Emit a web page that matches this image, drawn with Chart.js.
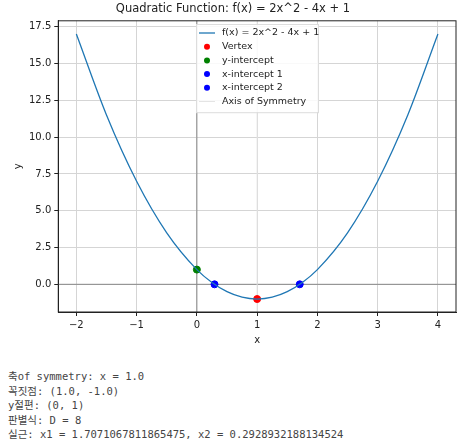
<!DOCTYPE html>
<html><head><meta charset="utf-8">
<script src="https://cdn.jsdelivr.net/npm/chart.js@4"></script>
<style>
body{margin:0;background:#fff;width:474px;height:447px;overflow:hidden}
#wrap{width:474px;height:348px;position:relative}
pre{margin:0;padding:21px 0 0 8px;font-family:"DejaVu Sans Mono","Noto Sans CJK KR",monospace;font-size:10.5px;line-height:14.6px;color:#444}
</style></head><body>
<div id="wrap"><canvas id="c"></canvas></div>
<pre>축of symmetry: x = 1.0
꼭짓점: (1.0, -1.0)
y절편: (0, 1)
판별식: D = 8
실근: x1 = 1.7071067811865475, x2 = 0.2928932188134524</pre>
<script>
// данные кривой
const curveX = [-2, -1.5, -1, -0.5, 0, 0.25, 0.5, 0.75, 1, 1.25, 1.5, 1.75, 2, 2.5, 3, 3.5, 4];
const curveY = [17, 11.5, 7, 3.5, 1, 0.125, -0.5, -0.875, -1, -0.875, -0.5, 0.125, 1, 3.5, 7, 11.5, 17];
const vertex = [{x: 1, y: -1}];
const yIntercept = [{x: 0, y: 1}];
const xIntercept1 = [{x: 1.7071, y: 0}];
const xIntercept2 = [{x: 0.2929, y: 0}];
const symmetryX = 1.0;

const font = {family: 'DejaVu Sans', size: 10};

const legendBox = {
    id: 'legendBox',
    afterDraw(chart) {
        const ctx = chart.ctx;
        const items = chart.data.datasets;
        const x0 = 196, y0 = 24, w = 122, lh = 13.7;
        ctx.save();
        ctx.fillStyle = 'rgba(255,255,255,0.85)';
        ctx.strokeStyle = '#ddd';
        ctx.fillRect(x0, y0, w, items.length * lh + 6);
        ctx.strokeRect(x0 + 0.5, y0 + 0.5, w, items.length * lh + 6);
        ctx.font = '9.5px "DejaVu Sans"';
        ctx.textBaseline = 'middle';
        items.forEach((d, i) => {
            const y = y0 + 9 + i * lh;
            if (d.showLine) {
                ctx.strokeStyle = d.borderColor; ctx.lineWidth = d.borderWidth;
                ctx.beginPath(); ctx.moveTo(x0 + 3, y); ctx.lineTo(x0 + 19, y); ctx.stroke();
            } else {
                ctx.fillStyle = d.backgroundColor;
                ctx.beginPath(); ctx.arc(x0 + 11, y, 3, 0, Math.PI * 2); ctx.fill();
            }
            ctx.fillStyle = '#222';
            ctx.fillText(d.label, x0 + 26, y);
        });
        ctx.restore();
    }
};

const refLines = {
    id: 'refLines',
    beforeDatasetsDraw(chart) {
        const {ctx, chartArea: a, scales: {x, y}} = chart;
        ctx.save();
        ctx.lineWidth = 1;
        ctx.strokeStyle = '#888';
        ctx.beginPath();
        ctx.moveTo(a.left, y.getPixelForValue(0)); ctx.lineTo(a.right, y.getPixelForValue(0));
        ctx.moveTo(x.getPixelForValue(0), a.top); ctx.lineTo(x.getPixelForValue(0), a.bottom);
        ctx.stroke();
        ctx.strokeStyle = '#e4e4e4';
        ctx.beginPath();
        ctx.moveTo(x.getPixelForValue(symmetryX), a.top); ctx.lineTo(x.getPixelForValue(symmetryX), a.bottom);
        ctx.stroke();
        ctx.strokeStyle = '#222';
        ctx.strokeRect(a.left, a.top, a.right - a.left, a.bottom - a.top);
        ctx.restore();
    }
};

const pts = (label, data, color) => ({label, data, showLine: false, backgroundColor: color, borderColor: color, pointRadius: 3.5, pointHoverRadius: 3.5});

new Chart(document.getElementById('c'), {
    type: 'scatter',
    data: {
        datasets: [
            {label: 'f(x) = 2x^2 - 4x + 1', data: curveX.map((v, i) => ({x: v, y: curveY[i]})), showLine: true,
             borderColor: '#1f77b4', backgroundColor: '#1f77b4', borderWidth: 1.3, pointRadius: 0, cubicInterpolationMode: 'monotone'},
            pts('Vertex', vertex, 'red'),
            pts('y-intercept', yIntercept, 'green'),
            pts('x-intercept 1', xIntercept1, 'blue'),
            pts('x-intercept 2', xIntercept2, 'blue'),
            {label: 'Axis of Symmetry', data: [], showLine: true, borderColor: '#e4e4e4', borderWidth: 1}
        ]
    },
    options: {
        responsive: true, maintainAspectRatio: false, animation: false,
        layout: {padding: {left: 10, right: 18, top: 0, bottom: 2}},
        plugins: {
            legend: {display: false},
            tooltip: {enabled: false},
            title: {display: true, text: 'Quadratic Function: f(x) = 2x^2 - 4x + 1', color: '#222',
                    font: {family: 'DejaVu Sans', size: 11.5, weight: 'normal'}, padding: {top: 2, bottom: 5}}
        },
        scales: {
            x: {type: 'linear', min: -2.3, max: 4.3,
                afterBuildTicks: s => { s.ticks = [-2, -1, 0, 1, 2, 3, 4].map(v => ({value: v})); },
                ticks: {color: '#222', font, callback: v => v < 0 ? '\u2212' + (-v) : v},
                grid: {color: '#d5d5d5', tickColor: '#222', tickLength: 4},
                border: {color: '#222'},
                title: {display: true, text: 'x', color: '#222', font, padding: 0}},
            y: {min: -1.88, max: 17.9,
                afterBuildTicks: s => { s.ticks = [0, 2.5, 5, 7.5, 10, 12.5, 15, 17.5].map(v => ({value: v})); },
                ticks: {color: '#222', font, callback: v => v.toFixed(1)},
                grid: {color: '#d5d5d5', tickColor: '#222', tickLength: 4},
                border: {color: '#222'},
                title: {display: true, text: 'y', color: '#222', font, padding: 2}}
        }
    },
    plugins: [refLines, legendBox]
});
</script>
</body></html>
